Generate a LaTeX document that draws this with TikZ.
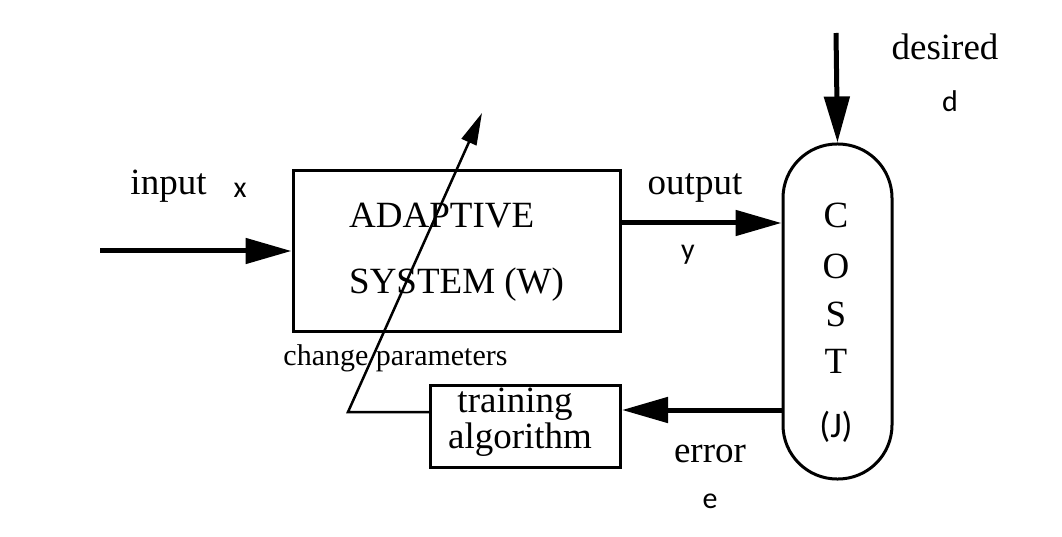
\documentclass[tikz,border=0pt]{standalone}
\usepackage{fontspec}
\setmainfont{Liberation Serif}
\newfontfamily\sansf{Carlito}
\usetikzlibrary{arrows.meta}
\begin{document}
\begin{tikzpicture}[x=1pt,y=-1pt,
  box/.style={draw,line width=3pt,inner sep=0pt},
  bigarr/.style={line width=5pt,-{Triangle[length=46pt,width=25pt]}},
  thinarr/.style={line width=2.5pt,-{Triangle[length=32pt,width=16pt]}},
  lbl/.style={font=\fontsize{37}{39}\selectfont,inner sep=0pt,anchor=base},
  slbl/.style={font=\sansf\fontsize{30}{32}\selectfont,inner sep=0pt,anchor=base}]
\useasboundingbox (0,0) rectangle (1062,537);
% blocks
\node[box,minimum width=327pt,minimum height=160pt] (adapt) at (456.5,251) {};
\node[box,minimum width=190pt,minimum height=82pt] (train) at (525.5,426) {};
\node[box,rounded corners=54pt,minimum width=109pt,minimum height=335pt] (cost) at (837.5,311.5) {};
% free ends
\coordinate (in0) at (100,251);
\coordinate (d0) at (836,33);
\coordinate (outy) at (700,223);
\coordinate (erry) at (700,410);
\coordinate (corner) at (348,412);
\coordinate (tip) at (482,113);
% connectors
\draw[bigarr] (in0) -- (adapt.west);
\draw[bigarr] (adapt.east |- outy) -- (cost.west |- outy);
\draw[bigarr] (d0) -- (cost.north);
\draw[bigarr] (cost.west |- erry) -- (train.east |- erry);
\draw[thinarr] (train.west |- corner) -- (corner) -- (tip);
% texts
\node[lbl] (tin) at (168.5,195) {input};
\node[slbl] (tx) at (240,198) {x};
\node[lbl,anchor=base west] (ta1) at (349,228) {ADAPTIVE};
\node[lbl,anchor=base west] (ta2) at (349,293) {SYSTEM (W)};
\node[lbl] (tout) at (695,195) {output};
\node[slbl] (ty) at (688,260) {y};
\node[lbl] (tdes) at (945,60) {desired};
\node[slbl] (td) at (950,112) {d};
\node[lbl] (tc) at (836,228) {C};
\node[lbl] (to) at (836,278) {O};
\node[lbl] (ts) at (836,326) {S};
\node[lbl] (tt) at (836,373) {T};
\node[slbl,font=\sansf\fontsize{36}{38}\selectfont] (tj) at (836,437) {(J)};
\node[lbl] (terr) at (710,462) {error};
\node[slbl] (te) at (710,508) {e};
\node[lbl,font=\fontsize{30}{32}\selectfont] (tchg) at (395.5,365) {change parameters};
\node[lbl] (ttr) at (515,412) {training};
\node[lbl] (tal) at (520,448) {algorithm};
\end{tikzpicture}
\end{document}
